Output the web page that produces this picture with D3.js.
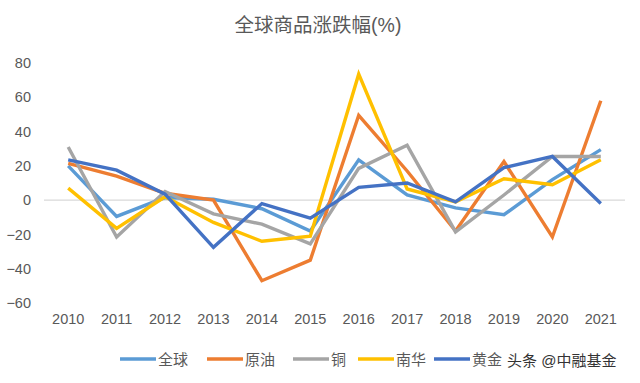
<!DOCTYPE html>
<html>
<head>
<meta charset="utf-8">
<script src="https://cdn.jsdelivr.net/npm/d3@7"></script>
<style>
html,body{margin:0;padding:0;background:#fff;}
text{font-family:"Liberation Sans","Noto Sans CJK SC",sans-serif;}
</style>
</head>
<body>
<svg id="chart" width="640" height="383"></svg>
<script>
const title = "全球商品涨跌幅(%)";
const years = ["2010","2011","2012","2013","2014","2015","2016","2017","2018","2019","2020","2021"];
const seriesNames = ["全球","原油","铜","南华","黄金"];
const seriesColors = ["#5B9BD5","#ED7D31","#A5A5A5","#FFC000","#4472C4"];
const global = [20, -9.5, 1.5, 0.5, -5, -18, 23.5, 3, -4.5, -8.5, 12, 29.5];
const crude  = [21.5, 14, 4, 0, -47, -35, 49.5, 17, -18, 22.5, -21.5, 58];
const copper = [31, -21.5, 5, -8, -14, -25.5, 18.5, 32, -18.5, 3, 25.5, 25.5];
const nanhua = [7, -16.5, 2, -13, -24, -21, 73.5, 6.5, -1, 12.5, 9, 23.5];
const gold   = [23.5, 17.5, 3.5, -27.5, -2, -10.5, 7.5, 10, -1, 19, 25.5, -2];
const yTicks = [-60, -40, -20, 0, 20, 40, 60, 80];
const watermark = "头条 @中融基金";

const seriesData = [global, crude, copper, nanhua, gold];

const svg = d3.select("#chart");
const x = d3.scaleBand().domain(years).range([44, 625]);
const y = d3.scaleLinear().domain([-60, 80]).range([303, 63]);
const cx = d => x(d) + x.bandwidth() / 2;

// title
svg.append("text").attr("x", 318).attr("y", 32).attr("text-anchor", "middle")
  .attr("font-size", 19.5).attr("fill", "#595959").text(title);

// y axis labels
const yAxis = d3.axisLeft(y).tickValues(yTicks).tickSize(0).tickPadding(0);
const gy = svg.append("g").attr("transform", "translate(31,0)").call(yAxis);
gy.select(".domain").remove();
gy.selectAll("text").attr("font-size", 14.5).attr("fill", "#595959")
  .style("font-family", '"Liberation Sans",sans-serif');

// zero line
svg.append("line").attr("x1", 44).attr("x2", 625).attr("y1", y(0)).attr("y2", y(0))
  .attr("stroke", "#D9D9D9").attr("stroke-width", 1.2);

// x axis labels
const xAxis = d3.axisBottom(x).tickSize(0).tickPadding(0);
const gx = svg.append("g").attr("transform", "translate(0,314)").call(xAxis);
gx.select(".domain").remove();
gx.selectAll("text").attr("font-size", 14.5).attr("fill", "#595959")
  .style("font-family", '"Liberation Sans",sans-serif');

// lines
const line = d3.line().x((d, i) => cx(years[i])).y(d => y(d));
seriesData.forEach((vals, k) => {
  svg.append("path").datum(vals).attr("d", line)
    .attr("fill", "none").attr("stroke", seriesColors[k]).attr("stroke-width", 3.4)
    .attr("stroke-linejoin", "miter").attr("stroke-linecap", "butt");
});

// legend
const legX = [120, 207, 293, 358, 434];
const lg = svg.append("g");
seriesNames.forEach((n, k) => {
  lg.append("line").attr("x1", legX[k]).attr("x2", legX[k] + 36).attr("y1", 359).attr("y2", 359)
    .attr("stroke", seriesColors[k]).attr("stroke-width", 3.6);
  lg.append("text").attr("x", legX[k] + 38).attr("y", 364.5).attr("font-size", 15)
    .attr("fill", "#595959").text(n);
});

// watermark
svg.append("text").attr("x", 507).attr("y", 366).attr("font-size", 15)
  .attr("fill", "#333").attr("stroke", "#fff").attr("stroke-width", 2.5)
  .attr("paint-order", "stroke").text(watermark);
</script>
</body>
</html>
